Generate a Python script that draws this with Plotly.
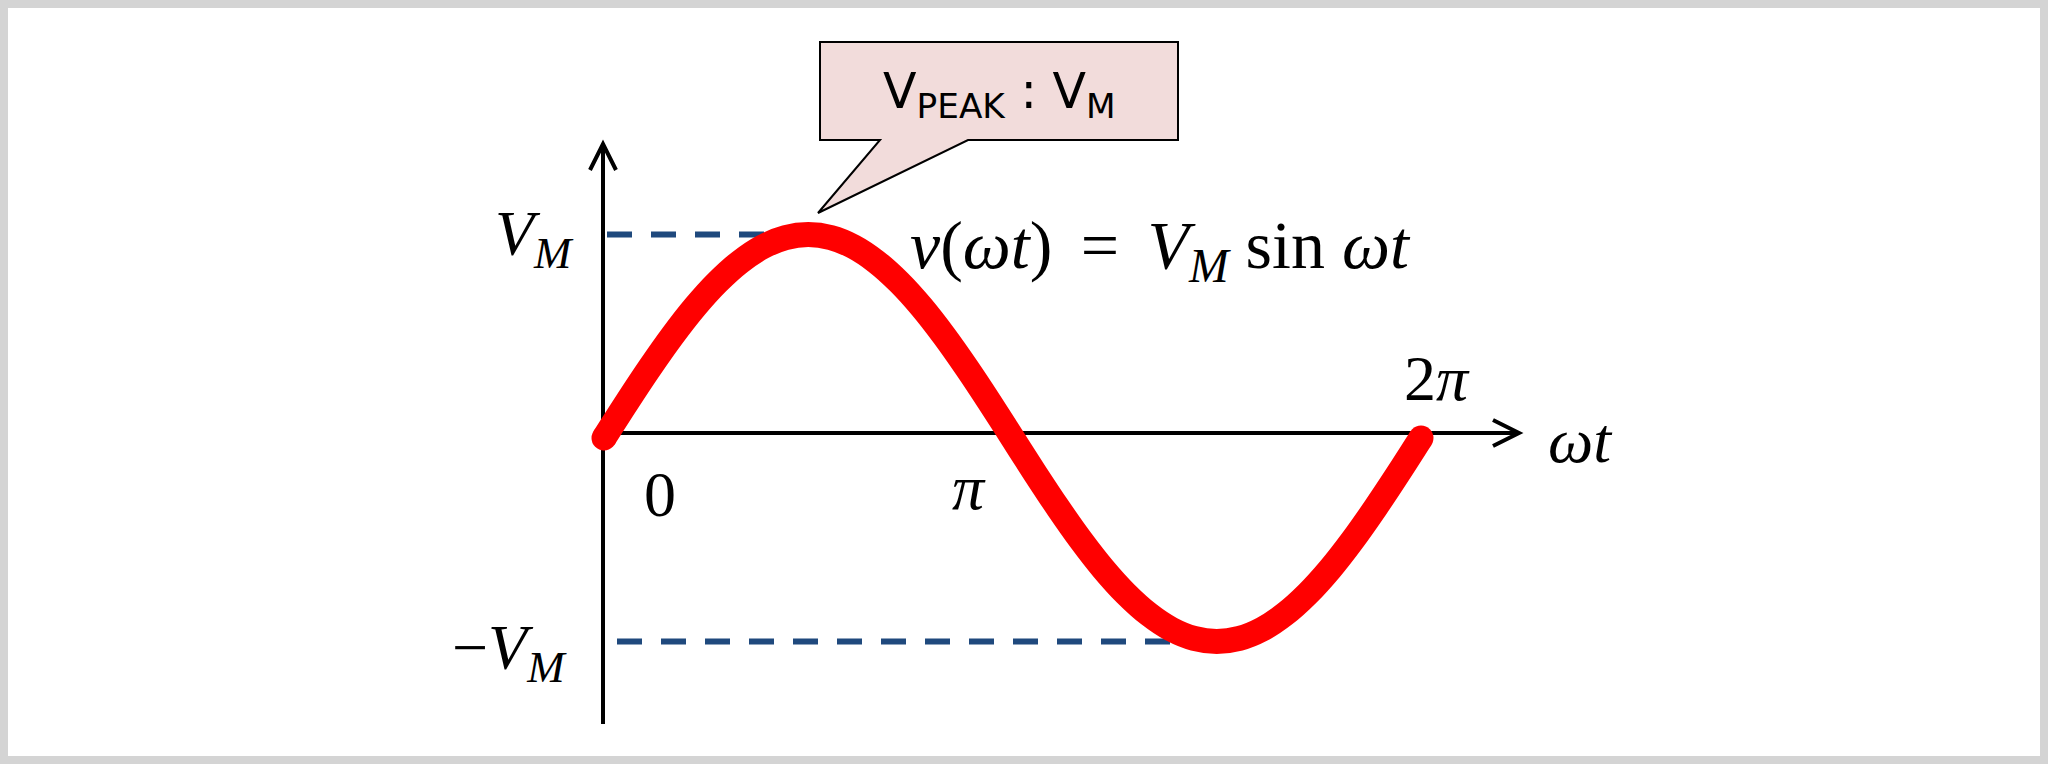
import plotly.graph_objects as go

# values: phase in degrees, voltage in units of V_M
wt_deg = [0, 10, 20, 30, 40, 50, 60, 70, 80, 90, 100, 110, 120, 130, 140, 150, 160, 170, 180,
          190, 200, 210, 220, 230, 240, 250, 260, 270, 280, 290, 300, 310, 320, 330, 340, 350, 360]
v_norm = [0, 0.174, 0.342, 0.50, 0.643, 0.766, 0.866, 0.940, 0.985, 1.00,
          0.985, 0.940, 0.866, 0.766, 0.643, 0.50, 0.342, 0.174, 0,
          -0.174, -0.342, -0.50, -0.643, -0.766, -0.866, -0.940, -0.985, -1.00,
          -0.985, -0.940, -0.866, -0.766, -0.643, -0.50, -0.342, -0.174, 0]

tick_vals = [0, 180, 360]
tick_text = ['0', '<i>π</i>', '2<i>π</i>']
level_vals = [1, -1]
level_text = ['<i>V</i><sub><i>M</i></sub>', '−<i>V</i><sub><i>M</i></sub>']

# layout in pixels
W, H = 2048, 764
X0, X1 = 604, 1421      # pixel x of 0 and 2pi
YC, AMP = 438, 203.5    # pixel y of v=0 and pixels per V_M
sx = (X1 - X0) / 360.0

MATH = 'Liberation Serif'
RED = '#FF0000'
BLUE = '#1F497D'


def px(x):
    return x / W


def py(y):
    return 1 - y / H


fig = go.Figure()

# dashed guides at +V_M and -V_M
i_pk = v_norm.index(max(v_norm))
i_tr = v_norm.index(min(v_norm))
fig.add_trace(go.Scatter(
    x=[3 / sx, wt_deg[i_pk]], y=[v_norm[i_pk], v_norm[i_pk]],
    mode='lines', line=dict(color=BLUE, width=6, dash='25px,19px'),
    hoverinfo='skip'))
fig.add_trace(go.Scatter(
    x=[13 / sx, wt_deg[i_tr]], y=[v_norm[i_tr], v_norm[i_tr]],
    mode='lines', line=dict(color=BLUE, width=6, dash='25px,19px'),
    hoverinfo='skip'))

# the sine wave
fig.add_trace(go.Scatter(
    x=wt_deg, y=v_norm, mode='lines',
    line=dict(color=RED, width=25, shape='spline', smoothing=1.0)))
# round caps on both ends
fig.add_trace(go.Scatter(
    x=[wt_deg[0], wt_deg[-1]], y=[v_norm[0], v_norm[-1]], mode='markers',
    marker=dict(color=RED, size=25, line=dict(width=0))))

shapes = []
# outer gray frame
shapes.append(dict(type='rect', xref='paper', yref='paper',
                   x0=px(4), x1=px(W - 4), y0=py(4), y1=py(H - 4),
                   line=dict(color='#D4D4D4', width=8), layer='below'))
# axes
ax_y = 433
shapes.append(dict(type='line', xref='paper', yref='paper',
                   x0=px(603), x1=px(603), y0=py(724), y1=py(145),
                   line=dict(color='black', width=4), layer='below'))
shapes.append(dict(type='line', xref='paper', yref='paper',
                   x0=px(603), x1=px(1518), y0=py(ax_y), y1=py(ax_y),
                   line=dict(color='black', width=4), layer='below'))
# open arrow heads
shapes.append(dict(type='path', xref='paper', yref='paper',
                   path='M %f %f L %f %f L %f %f' % (px(590), py(170), px(603), py(144), px(616), py(170)),
                   line=dict(color='black', width=4), layer='below'))
shapes.append(dict(type='path', xref='paper', yref='paper',
                   path='M %f %f L %f %f L %f %f' % (px(1493), py(420), px(1519), py(ax_y), px(1493), py(446)),
                   line=dict(color='black', width=4), layer='below'))
# callout box with tail
pts = [(820, 42), (1178, 42), (1178, 140), (968, 140), (818, 213), (880, 140), (820, 140)]
path = 'M ' + ' L '.join('%f %f' % (px(a), py(b)) for a, b in pts) + ' Z'
shapes.append(dict(type='path', xref='paper', yref='paper', path=path,
                   fillcolor='#F2DCDB', line=dict(color='black', width=2)))

annotations = []
# tick labels on the wt axis
tick_shift = [(56, -56), (-44, -49), (16, 60)]
for v, t, (dx, dy) in zip(tick_vals, tick_text, tick_shift):
    annotations.append(dict(x=v, y=0, xref='x', yref='y', text=t, showarrow=False,
                            xanchor='center', yanchor='middle', xshift=dx, yshift=dy,
                            font=dict(family=MATH, size=64, color='black')))
# level labels
level_shift = [(-28, -3), (-35, -10)]
for v, t, (dx, dy) in zip(level_vals, level_text, level_shift):
    annotations.append(dict(x=0, y=v, xref='x', yref='y', text=t, showarrow=False,
                            xanchor='right', yanchor='middle', xshift=dx, yshift=dy,
                            font=dict(family=MATH, size=64, color='black')))
# axis name
annotations.append(dict(x=px(1580), y=py(440), xref='paper', yref='paper',
                        xanchor='center', yanchor='middle',
                        text='<i>ωt</i>', showarrow=False,
                        font=dict(family=MATH, size=64, color='black')))
# formula
annotations.append(dict(x=px(908), y=py(249), xref='paper', yref='paper',
                        xanchor='left', yanchor='middle',
                        text='<i>v</i>(<i>ωt</i>) \u2006= \u2006<i>V</i><sub><i>M</i></sub> sin <i>ωt</i>',
                        showarrow=False, font=dict(family=MATH, size=68, color='black')))
# callout text
annotations.append(dict(x=px(999), y=py(94), xref='paper', yref='paper',
                        xanchor='center', yanchor='middle',
                        text='V<sub>PEAK</sub> : V<sub>M</sub>', showarrow=False,
                        font=dict(family='DejaVu Sans', size=49, color='black')))

fig.update_layout(
    width=W, height=H,
    margin=dict(l=0, r=0, t=0, b=0),
    paper_bgcolor='white', plot_bgcolor='white',
    showlegend=False,
    xaxis=dict(range=[-X0 / sx, (W - X0) / sx], visible=False, fixedrange=True),
    yaxis=dict(range=[(YC - H) / AMP, YC / AMP], visible=False, fixedrange=True),
    shapes=shapes,
    annotations=annotations,
)

fig.write_html('out.html', config={'displayModeBar': False},
               post_script="document.body.style.margin='0';document.body.style.overflow='hidden';")
